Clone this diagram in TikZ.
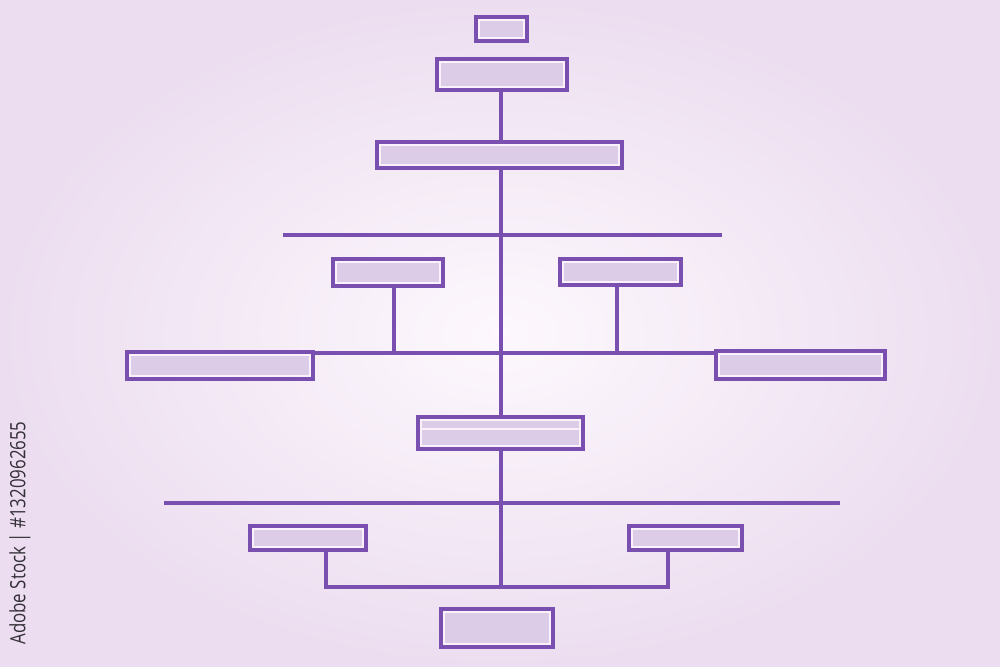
\documentclass[tikz,border=0pt]{standalone}
\usepackage{fontspec}
\setsansfont{Open Sans}
\definecolor{linepurple}{RGB}{121,80,176}
\definecolor{boxlav}{RGB}{221,204,232}
\definecolor{boxring}{RGB}{250,241,250}
\definecolor{bgedge}{RGB}{236,222,240}
\definecolor{bgmid}{RGB}{253,248,253}
\definecolor{idgray}{RGB}{52,48,56}
\begin{document}
\begin{tikzpicture}[x=0.01cm,y=-0.01cm]
		\tikzset{every node/.style={inner sep=0pt, outer sep=0pt},
			orgbox/.style={draw=linepurple, line width=1.1pt, fill=boxring,
				path picture={\fill[boxlav] ([shift={(0.04cm,-0.04cm)}]path picture bounding box.north west) rectangle ([shift={(-0.04cm,0.04cm)}]path picture bounding box.south east);}},
			splitbox/.style={orgbox,
				path picture={\fill[boxlav] ([shift={(0.04cm,-0.04cm)}]path picture bounding box.north west) rectangle ([shift={(-0.04cm,0.04cm)}]path picture bounding box.south east);
					\draw[boxring, line width=0.6pt] ([shift={(0.04cm,0.04cm)}]path picture bounding box.west) -- ([shift={(-0.04cm,0.04cm)}]path picture bounding box.east);}},
			link/.style={draw=linepurple, line width=0.9pt}}
		\shade[inner color=bgmid, outer color=bgedge] (0,0) rectangle (1000,667);
		\useasboundingbox (0,0) rectangle (1000,667);
		\node[orgbox, minimum width=0.51cm, minimum height=0.24cm] (top) at (501.5,29) {};
		\node[orgbox, minimum width=1.30cm, minimum height=0.31cm] (head) at (502,74.5) {};
		\node[orgbox, minimum width=2.45cm, minimum height=0.26cm] (bar) at (499.5,155) {};
		\node[orgbox, minimum width=1.10cm, minimum height=0.27cm] (lsub) at (388,272.5) {};
		\node[orgbox, minimum width=1.21cm, minimum height=0.26cm] (rsub) at (620.5,272) {};
		\node[orgbox, minimum width=1.86cm, minimum height=0.27cm] (lwide) at (220,365.5) {};
		\node[orgbox, minimum width=1.69cm, minimum height=0.28cm] (rwide) at (800.5,365) {};
		\node[splitbox, minimum width=1.65cm, minimum height=0.32cm] (mid) at (500.5,433) {};
		\node[orgbox, minimum width=1.16cm, minimum height=0.24cm] (llow) at (308,538) {};
		\node[orgbox, minimum width=1.13cm, minimum height=0.24cm] (rlow) at (685.5,538) {};
		\node[orgbox, minimum width=1.12cm, minimum height=0.38cm] (foot) at (497,628) {};
		\coordinate (spine) at (501,0);
		\coordinate (lstem) at (394,0);
		\coordinate (rstem) at (617,0);
		\coordinate (lfoot) at (326,0);
		\coordinate (rfoot) at (668,0);
		\coordinate (base) at (501,587);
		\coordinate (c1l) at (283,235);
		\coordinate (c1r) at (722,235);
		\coordinate (c3l) at (164,503);
		\coordinate (c3r) at (840,503);
		\draw[link] (spine |- head.south) -- (spine |- bar.north);
		\draw[link] (spine |- bar.south) -- (spine |- mid.north);
		\draw[link] (c1l) -- (c1r);
		\draw[link] (lstem |- lsub.south) -- (lstem |- lwide.north);
		\draw[link] (rstem |- rsub.south) -- (rstem |- rwide.north);
		\draw[link] ([yshift=-0.01cm]lwide.north east) -- ([yshift=-0.01cm]lwide.north east -| rwide.west);
		\draw[link] (spine |- mid.south) -- (base);
		\draw[link] (c3l) -- (c3r);
		\draw[link] (lfoot |- llow.south) |- (base) -| (rfoot |- rlow.south);
		\node[rotate=90, text=idgray, font=\sffamily\fontsize{6}{7}\selectfont] (stockid) at (20,533) {\scalebox{0.8}[1]{Adobe Stock | \#1320962655}};
	\end{tikzpicture}
\end{document}
